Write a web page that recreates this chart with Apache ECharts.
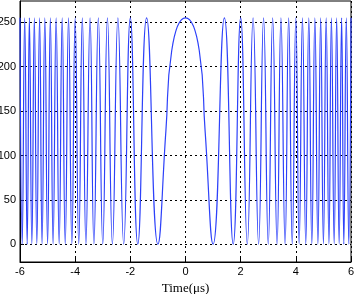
<!DOCTYPE html>
<html>
<head>
<meta charset="utf-8">
<script src="https://cdn.jsdelivr.net/npm/echarts@6/dist/echarts.min.js"></script>
<style>
  html, body { margin: 0; padding: 0; background: #fff; }
  #chart { width: 354px; height: 294px; }
</style>
</head>
<body>
<div id="chart"></div>
<script type="text/javascript">
    // times (µs) of the turning points, plus a few points on the wide centre lobe
    var times = [
        -6.00, -5.92, -5.83, -5.74, -5.66, -5.57, -5.48, -5.39, -5.29, -5.20,
        -5.10, -5.00, -4.90, -4.80, -4.69, -4.58, -4.47, -4.36, -4.24, -4.12,
        -4.00, -3.87, -3.74, -3.61, -3.46, -3.32, -3.16, -3.00, -2.83, -2.65,
        -2.45, -2.24, -2.00, -1.73, -1.41, -1.00, -0.71, -0.50, 0.00,
        0.50, 0.71, 1.00, 1.41, 1.73, 2.00, 2.24, 2.45, 2.65,
        2.83, 3.00, 3.16, 3.32, 3.46, 3.61, 3.74, 3.87, 4.00, 4.12,
        4.24, 4.36, 4.47, 4.58, 4.69, 4.80, 4.90, 5.00, 5.10, 5.20,
        5.29, 5.39, 5.48, 5.57, 5.66, 5.74, 5.83, 5.92, 6.00
    ];
    var values = [
        255, 0, 255, 0, 255, 0, 255, 0, 255, 0,
        255, 0, 255, 0, 255, 0, 255, 0, 255, 0,
        255, 0, 255, 0, 255, 0, 255, 0, 255, 0,
        255, 0, 255, 0, 255, 0, 128, 218, 255,
        218, 128, 0, 255, 0, 255, 0, 255, 0,
        255, 0, 255, 0, 255, 0, 255, 0, 255, 0,
        255, 0, 255, 0, 255, 0, 255, 0, 255, 0,
        255, 0, 255, 0, 255, 0, 255, 0, 255
    ];
    var yTicks = [0, 50, 100, 150, 200, 250];

    var points = [];
    for (var i = 0; i < times.length; i++) {
        points.push([times[i], values[i]]);
    }

    var chart = echarts.init(document.getElementById('chart'));

    var option = {
        animation: false,
        grid: {
            left: 20, right: 3, top: 1, bottom: 32,
            outerBoundsMode: 'none',
            show: true,
            borderColor: '#000',
            borderWidth: 1,
            backgroundColor: '#fff'
        },
        xAxis: {
            type: 'value',
            min: -6,
            max: 6,
            interval: 2,
            name: 'Time(μs)',
            nameLocation: 'middle',
            nameGap: 16,
            nameTextStyle: { fontFamily: 'Liberation Serif', fontSize: 13, color: '#000' },
            axisLine: { onZero: false, lineStyle: { color: '#000' } },
            axisTick: { inside: true, length: 4, lineStyle: { color: '#000' } },
            axisLabel: { fontFamily: 'Liberation Sans', fontSize: 11, color: '#000', margin: 4 },
            splitLine: { show: true, lineStyle: { color: '#000', type: [2, 3], width: 1 } }
        },
        yAxis: {
            type: 'value',
            min: -20,
            max: 274,
            axisLine: { show: true, onZero: false, lineStyle: { color: '#000' } },
            axisTick: { show: true, inside: true, length: 4, customValues: yTicks, lineStyle: { color: '#000' } },
            axisLabel: { fontFamily: 'Liberation Sans', fontSize: 11, color: '#000', margin: 4, customValues: yTicks },
            splitLine: { show: true, lineStyle: { color: '#000', type: [2, 3], width: 1 } }
        },
        series: [{
            type: 'line',
            data: points,
            smooth: 0.5,
            symbol: 'none',
            lineStyle: { color: 'rgb(45,65,250)', width: 1.2 }
        }]
    };

    chart.setOption(option);
</script>
</body>
</html>
